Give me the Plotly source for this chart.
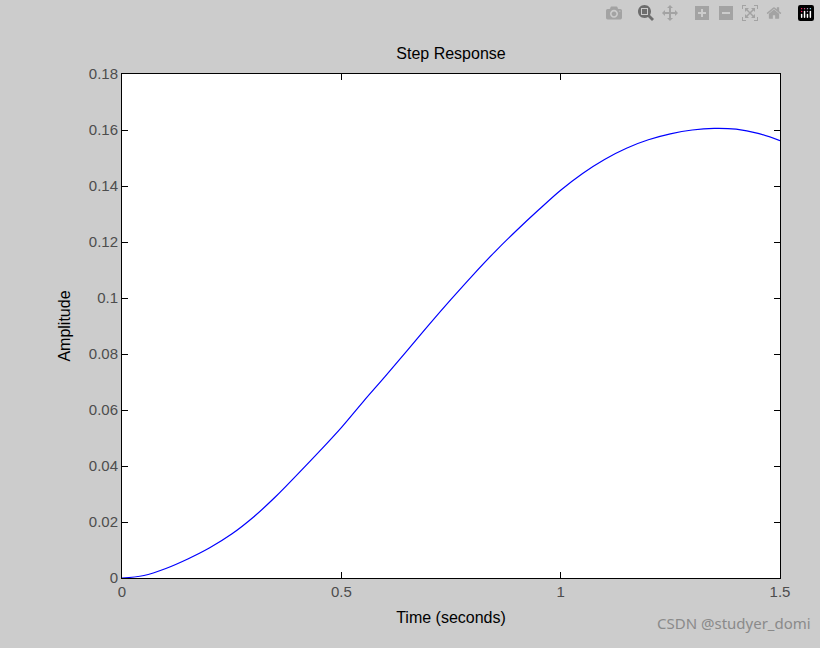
import plotly.graph_objects as go

t = [0, 0.05, 0.1, 0.15, 0.2, 0.25, 0.3, 0.35, 0.4, 0.45, 0.5, 0.55, 0.6, 0.65, 0.7, 0.75, 0.8, 0.85, 0.9, 0.95,
     1.0, 1.05, 1.1, 1.15, 1.2, 1.25, 1.3, 1.35, 1.4, 1.45, 1.5]
amp = [0, 0.0009, 0.0034, 0.0068, 0.0108, 0.0157, 0.0218, 0.0290, 0.0370, 0.0452, 0.0537, 0.0630, 0.0720, 0.0812,
       0.0905, 0.0995, 0.1082, 0.1165, 0.1242, 0.1315, 0.1385, 0.1445, 0.1495, 0.1535, 0.1565, 0.1586, 0.1600,
       0.1606, 0.1603, 0.1588, 0.1562]
xticks = [0, 0.5, 1, 1.5]
yticks = [0, 0.02, 0.04, 0.06, 0.08, 0.1, 0.12, 0.14, 0.16, 0.18]

fig = go.Figure(go.Scatter(x=t, y=amp, mode="lines", line=dict(color="#0000ff", width=1.2, shape="spline")))
ax = dict(showgrid=False, zeroline=False, showline=True, linecolor="black", linewidth=1, mirror="ticks",
          ticks="inside", ticklen=6, tickcolor="black", tickfont=dict(family="Liberation Sans, Arial", size=15, color="#4d4d4d"))
fig.update_xaxes(range=[0, 1.5], tickvals=xticks, ticktext=["0", "0.5", "1", "1.5"],
                 title=dict(text="Time (seconds)", font=dict(family="Liberation Sans, Arial", size=16, color="black"), standoff=12), **ax)
fig.update_yaxes(range=[0, 0.18], tickvals=yticks, ticktext=["0", "0.02", "0.04", "0.06", "0.08", "0.1", "0.12", "0.14", "0.16", "0.18"],
                 title=dict(text="Amplitude", font=dict(family="Liberation Sans, Arial", size=16, color="black"), standoff=14), **ax)
fig.update_layout(width=820, height=648, paper_bgcolor="#cccccc", plot_bgcolor="white",
                  margin=dict(l=122, r=40, t=74, b=70), showlegend=False,
                  title=dict(text="Step Response", x=0.5, xanchor="center", xref="paper", y=1 - 53/648, yanchor="middle",
                             font=dict(family="Liberation Sans, Arial", size=16, color="black")),
                  annotations=[dict(text="CSDN @studyer_domi", xref="paper", yref="paper", x=1.05, y=-0.09,
                                    xanchor="right", yanchor="middle", showarrow=False,
                                    font=dict(family="Noto Sans", size=15, color="#8a8a8a"))])
fig.write_html("out.html", post_script="document.body.style.margin='0';document.body.style.background='#cccccc';")
